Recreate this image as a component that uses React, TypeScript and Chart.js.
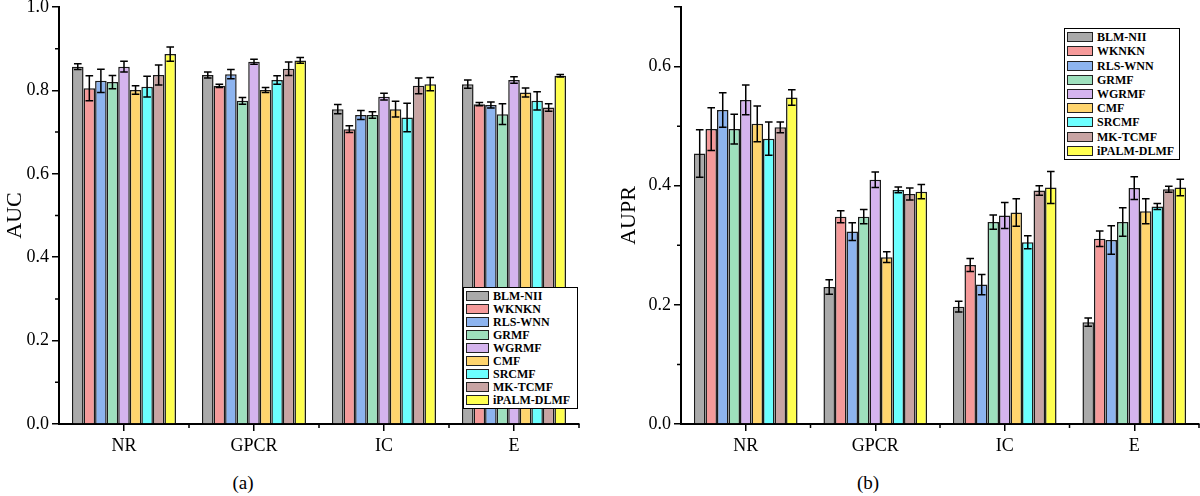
import { useEffect, useRef } from 'react';
import { Chart, registerables } from 'chart.js';
import type { Plugin } from 'chart.js';

Chart.register(...registerables);

const CATEGORIES = ['NR', 'GPCR', 'IC', 'E'];
const METHODS = ['BLM-NII', 'WKNKN', 'RLS-WNN', 'GRMF', 'WGRMF', 'CMF', 'SRCMF', 'MK-TCMF', 'iPALM-DLMF'];
const COLORS = ['#aaaaaa', '#f59a9a', '#8db4ef', '#9ee0bd', '#d5b4ee', '#ffd56e', '#6cffff', '#c8a4a3', '#ffff50'];

// one row per method, columns NR / GPCR / IC / E
const AUC = [
  [0.857, 0.837, 0.755, 0.815],
  [0.805, 0.811, 0.707, 0.767],
  [0.823, 0.839, 0.741, 0.765],
  [0.820, 0.775, 0.741, 0.743],
  [0.857, 0.869, 0.785, 0.825],
  [0.801, 0.801, 0.755, 0.795],
  [0.809, 0.825, 0.735, 0.775],
  [0.837, 0.852, 0.811, 0.759],
  [0.887, 0.872, 0.815, 0.835],
];
const AUC_ERR = [
  [0.007, 0.007, 0.011, 0.010],
  [0.030, 0.004, 0.008, 0.004],
  [0.028, 0.011, 0.011, 0.007],
  [0.016, 0.008, 0.008, 0.025],
  [0.013, 0.006, 0.008, 0.008],
  [0.010, 0.006, 0.019, 0.011],
  [0.025, 0.010, 0.034, 0.022],
  [0.024, 0.016, 0.019, 0.009],
  [0.017, 0.007, 0.016, 0.003],
];
const AUPR = [
  [0.454, 0.230, 0.197, 0.171],
  [0.495, 0.348, 0.267, 0.311],
  [0.527, 0.323, 0.234, 0.309],
  [0.495, 0.348, 0.339, 0.339],
  [0.544, 0.410, 0.350, 0.396],
  [0.504, 0.280, 0.355, 0.357],
  [0.479, 0.393, 0.305, 0.365],
  [0.498, 0.386, 0.392, 0.394],
  [0.548, 0.390, 0.397, 0.397],
];
const AUPR_ERR = [
  [0.040, 0.012, 0.009, 0.007],
  [0.036, 0.010, 0.011, 0.013],
  [0.029, 0.015, 0.017, 0.024],
  [0.025, 0.012, 0.012, 0.024],
  [0.025, 0.013, 0.022, 0.019],
  [0.030, 0.009, 0.023, 0.021],
  [0.028, 0.005, 0.011, 0.005],
  [0.009, 0.010, 0.008, 0.005],
  [0.013, 0.012, 0.027, 0.014],
];

const AUC_MINOR = [0.1, 0.3, 0.5, 0.7, 0.9];
const AUPR_MINOR = [0.1, 0.3, 0.5];

const FONT = "'Liberation Serif', 'Times New Roman', serif";

// error bars + the short minor ticks on both axes
const errorBars: Plugin<'bar'> = {
  id: 'errorBars',
  afterDatasetsDraw(chart, _args, opts: any) {
    const { ctx, chartArea } = chart;
    const y = chart.scales.y;
    const x = chart.scales.x;
    ctx.save();
    ctx.strokeStyle = '#000';
    ctx.lineWidth = 1.5;
    chart.data.datasets.forEach((ds, i) => {
      chart.getDatasetMeta(i).data.forEach((bar: any, j) => {
        const v = ds.data[j] as number;
        const e = opts.errors[i][j];
        const top = y.getPixelForValue(v + e);
        const bot = y.getPixelForValue(v - e);
        const half = bar.width * 0.33;
        ctx.beginPath();
        ctx.moveTo(bar.x, top);
        ctx.lineTo(bar.x, bot);
        ctx.moveTo(bar.x - half, top);
        ctx.lineTo(bar.x + half, top);
        ctx.moveTo(bar.x - half, bot);
        ctx.lineTo(bar.x + half, bot);
        ctx.stroke();
      });
    });
    ctx.lineWidth = 1.5;
    ctx.beginPath();
    (opts.minorY as number[]).forEach((v) => {
      const py = y.getPixelForValue(v);
      ctx.moveTo(chartArea.left, py);
      ctx.lineTo(chartArea.left - 4, py);
    });
    const n = CATEGORIES.length;
    for (let k = 1; k <= n; k++) {
      const px = x.left + (k * (x.right - x.left)) / n;
      ctx.moveTo(px, chartArea.bottom);
      ctx.lineTo(px, chartArea.bottom + 4);
    }
    ctx.stroke();
    ctx.restore();
  },
};

type PanelProps = {
  values: number[][];
  errors: number[][];
  title: string;
  yMax: number;
  minor: number[];
  axisWidth: number;
  titlePad: number;
  padRight: number;
};

function BarPanel({ values, errors, title, yMax, minor, axisWidth, titlePad, padRight }: PanelProps) {
  const canvasRef = useRef<HTMLCanvasElement>(null);

  useEffect(() => {
    if (!canvasRef.current) return;
    const chart = new Chart(canvasRef.current, {
      type: 'bar',
      data: {
        labels: CATEGORIES,
        datasets: METHODS.map((m, i) => ({
          label: m,
          data: values[i],
          backgroundColor: COLORS[i],
          borderColor: '#1a1a1a',
          borderWidth: 1.5,
          categoryPercentage: 0.8,
          barPercentage: 1.0,
        })),
      },
      options: {
        responsive: false,
        animation: false,
        layout: { padding: { left: 0, right: padRight, top: 7, bottom: 0 } },
        plugins: {
          legend: { display: false },
          tooltip: { enabled: false },
          errorBars: { errors, minorY: minor },
        } as any,
        scales: {
          x: {
            z: 1,
            grid: { drawOnChartArea: false, drawTicks: true, tickLength: 7, offset: false, color: '#000', lineWidth: 1.5 },
            border: { display: true, color: '#000', width: 2 },
            ticks: { color: '#000', padding: 4, font: { family: FONT, size: 18 } },
            afterFit: (s: any) => {
              s.height = 46;
            },
          },
          y: {
            z: 1,
            min: 0,
            max: yMax,
            grid: { drawOnChartArea: false, drawTicks: true, tickLength: 7, color: '#000', lineWidth: 1.5 },
            border: { display: true, color: '#000', width: 2 },
            ticks: {
              stepSize: 0.2,
              color: '#000',
              padding: 3,
              font: { family: FONT, size: 18 },
              callback: (v: any) => {
                const n = Number(v);
                return Math.abs(Math.round(n * 5) - n * 5) < 1e-6 ? n.toFixed(1) : '';
              },
            },
            title: { display: true, text: title, color: '#000', padding: { top: titlePad, bottom: 0 }, font: { family: FONT, size: 22 } },
            afterFit: (s: any) => {
              s.width = axisWidth;
              s.paddingTop = 0;
              s.paddingBottom = 0;
            },
          },
        },
      },
      plugins: [errorBars],
    });
    return () => chart.destroy();
  }, [values, errors, title, yMax, minor, axisWidth, titlePad, padRight]);

  return <canvas ref={canvasRef} width={600} height={470} style={{ display: 'block' }} />;
}

function Legend({ left, top, width, height, swatchW, textX }: { left: number; top: number; width: number; height: number; swatchW: number; textX: number }) {
  return (
    <div
      style={{
        position: 'absolute',
        left,
        top,
        width,
        height,
        boxSizing: 'border-box',
        border: '1.5px solid #000',
        background: '#fff',
        display: 'flex',
        flexDirection: 'column',
        justifyContent: 'space-around',
        padding: '1px 0',
      }}
    >
      {METHODS.map((m, i) => (
        <div key={m} style={{ position: 'relative', height: 12, display: 'flex', alignItems: 'center' }}>
          <div
            style={{
              position: 'absolute',
              left: 2,
              width: swatchW,
              height: 10,
              boxSizing: 'border-box',
              border: '1.5px solid #222',
              background: COLORS[i],
            }}
          />
          <span
            style={{
              position: 'absolute',
              left: textX,
              fontFamily: FONT,
              fontWeight: 'bold',
              fontSize: 12,
              lineHeight: '12px',
              whiteSpace: 'nowrap',
            }}
          >
            {m}
          </span>
        </div>
      ))}
    </div>
  );
}

export default function App() {
  useEffect(() => {
    document.body.style.margin = '0';
  }, []);

  const caption = { position: 'absolute' as const, top: 472, fontFamily: FONT, fontSize: 19, width: 40, textAlign: 'center' as const };

  return (
    <div style={{ position: 'relative', width: 1200, height: 496, background: '#fff', overflow: 'hidden' }}>
      <div style={{ position: 'absolute', left: 0, top: 0 }}>
        <BarPanel values={AUC} errors={AUC_ERR} title="AUC" yMax={1.0} minor={AUC_MINOR} axisWidth={59} titlePad={2} padRight={21} />
      </div>
      <div style={{ position: 'absolute', left: 600, top: 0 }}>
        <BarPanel values={AUPR} errors={AUPR_ERR} title="AUPR" yMax={0.7} minor={AUPR_MINOR} axisWidth={81} titlePad={16} padRight={1} />
      </div>
      <Legend left={463} top={287} width={115} height={122} swatchW={23} textX={29} />
      <Legend left={1064} top={28} width={116} height={132} swatchW={26} textX={32} />
      <div style={{ ...caption, left: 223 }}>(a)</div>
      <div style={{ ...caption, left: 848 }}>(b)</div>
    </div>
  );
}
